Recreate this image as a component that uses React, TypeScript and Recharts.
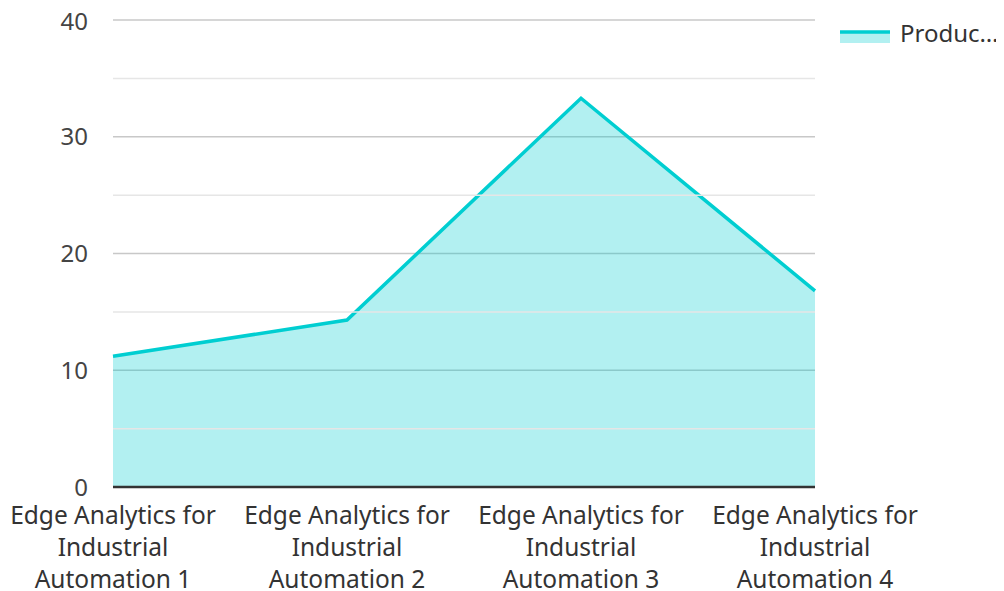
import React from 'react';
import { AreaChart, Area, XAxis, YAxis, CartesianGrid, ReferenceLine } from 'recharts';

const categories = [
  'Edge Analytics for Industrial Automation 1',
  'Edge Analytics for Industrial Automation 2',
  'Edge Analytics for Industrial Automation 3',
  'Edge Analytics for Industrial Automation 4',
];
const productionValues = [11.2, 14.3, 33.3, 16.8];
const seriesName = 'Production';
const majorTicks = [0, 10, 20, 30, 40];
const minorTicks = [5, 15, 25, 35];

const data = categories.map((name, i) => ({ name, value: productionValues[i] }));

const LINE = '#00CED1';
const FONT = '"Noto Sans", sans-serif';

// wrap like the source: "Edge Analytics for" / "Industrial" / "Automation N"
const wrapLabel = (label: string): string[] => {
  const words = label.split(' ');
  return [words.slice(0, 3).join(' '), words[3], words.slice(4).join(' ')];
};

const CategoryTick = (props: any) => {
  const { x, y, payload } = props;
  const lines = wrapLabel(String(payload.value));
  return (
    <text x={x} y={y} textAnchor="middle" fill="#333" fontSize={24.5} fontFamily={FONT}>
      {lines.map((line, i) => (
        <tspan key={i} x={x} dy={i === 0 ? 17 : 32}>
          {line}
        </tspan>
      ))}
    </text>
  );
};

const LegendBox = () => (
  <div
    style={{
      position: 'absolute',
      left: 832,
      top: 8,
      display: 'flex',
      alignItems: 'center',
      fontFamily: FONT,
      fontSize: 24,
      color: '#333',
      whiteSpace: 'nowrap',
    }}
  >
    <svg width={50} height={20} style={{ marginRight: 10 }}>
      <rect x={0} y={10} width={50} height={10} fill={LINE} fillOpacity={0.3} />
      <line x1={0} x2={50} y1={9} y2={9} stroke={LINE} strokeWidth={3.5} />
    </svg>
    <span>{seriesName.slice(0, 6)}…</span>
  </div>
);

export default function App() {
  return (
    <div style={{ position: 'relative', width: 988, height: 583 }}>
      <AreaChart
        width={988}
        height={583}
        data={data}
        margin={{ top: 12, right: 181, left: 0, bottom: 8 }}
      >
        <CartesianGrid vertical={false} stroke="#c8c8c8" strokeWidth={1.5} />
        {minorTicks.map((t) => (
          <ReferenceLine key={t} y={t} stroke="#e6e6e6" strokeWidth={1.5} />
        ))}
        <XAxis
          dataKey="name"
          height={96}
          interval={0}
          tickLine={false}
          axisLine={{ stroke: '#333', strokeWidth: 2.5 }}
          tick={<CategoryTick />}
          tickMargin={14}
        />
        <YAxis
          width={105}
          domain={[0, 40]}
          ticks={majorTicks}
          axisLine={false}
          tickLine={false}
          tickSize={0}
          tickMargin={25}
          tick={{ fill: '#444', fontSize: 24, fontFamily: FONT }}
        />
        <Area
          type="linear"
          dataKey="value"
          name={seriesName}
          stroke={LINE}
          strokeWidth={3.5}
          fill={LINE}
          fillOpacity={0.3}
          dot={false}
          activeDot={false}
          isAnimationActive={false}
        />
      </AreaChart>
      <LegendBox />
    </div>
  );
}
